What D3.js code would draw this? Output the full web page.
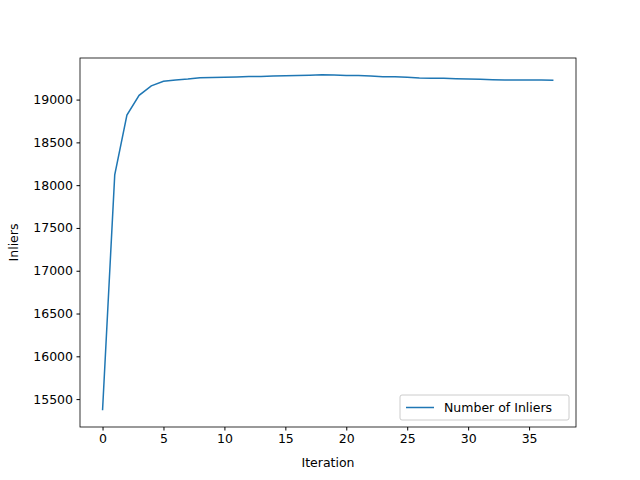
<!DOCTYPE html>
<html><head><meta charset="utf-8">
<script src="https://cdn.jsdelivr.net/npm/d3@7"></script>
<style>body{margin:0;background:#fff}text{font-family:"DejaVu Sans",sans-serif}</style>
</head><body><svg id="c" width="640" height="480"></svg>
<script>
const inliers = [15370,18120,18820,19050,19160,19215,19230,19240,19255,19258,19260,19265,19270,19270,19275,19280,19282,19285,19290,19288,19282,19282,19275,19268,19266,19260,19252,19248,19248,19243,19240,19237,19232,19230,19230,19230,19228,19226];
const xTicks = [0,5,10,15,20,25,30,35];
const yTicks = [15500,16000,16500,17000,17500,18000,18500,19000];

const fs = 12.5;
const m = {l:80, r:576, t:58, b:427};
const svg = d3.select("#c");
const n = inliers.length - 1;
const x = d3.scaleLinear().domain([-0.05*n, n*1.05]).range([m.l, m.r]);
const lo = d3.min(inliers), hi = d3.max(inliers), pad = (hi - lo)*0.05;
const y = d3.scaleLinear().domain([lo - pad, hi + pad]).range([m.b, m.t]);

svg.append("g").attr("transform",`translate(0,${m.b})`)
  .call(d3.axisBottom(x).tickValues(xTicks).tickSize(3.5).tickPadding(3.5))
  .call(g=>g.select(".domain").remove());
svg.append("g").attr("transform",`translate(${m.l},0)`)
  .call(d3.axisLeft(y).tickValues(yTicks).tickFormat(d3.format("d")).tickSize(3.5).tickPadding(3.5))
  .call(g=>g.select(".domain").remove());
svg.selectAll(".tick text").attr("font-size",fs).attr("fill","#000");
svg.selectAll(".tick line").attr("stroke","#000");

svg.append("path").datum(inliers)
  .attr("fill","none").attr("stroke","#1f77b4").attr("stroke-width",1.5)
  .attr("d", d3.line().x((d,i)=>x(i)).y(d=>y(d)));

svg.append("rect").attr("x",m.l).attr("y",m.t).attr("width",m.r-m.l).attr("height",m.b-m.t)
  .attr("fill","none").attr("stroke","#000").attr("stroke-width",0.8);

svg.append("text").attr("x",(m.l+m.r)/2).attr("y",467).attr("text-anchor","middle").attr("font-size",fs).text("Iteration");
svg.append("text").attr("transform",`translate(18,${(m.t+m.b)/2}) rotate(-90)`).attr("text-anchor","middle").attr("font-size",fs).text("Inliers");

const lg = svg.append("g").attr("transform","translate(400,395)");
lg.append("rect").attr("width",169).attr("height",25).attr("rx",2).attr("fill","#fff").attr("stroke","#ccc");
lg.append("line").attr("x1",6).attr("x2",34).attr("y1",12.5).attr("y2",12.5).attr("stroke","#1f77b4").attr("stroke-width",1.5);
lg.append("text").attr("x",44).attr("y",17).attr("font-size",fs).text("Number of Inliers");
</script></body></html>
